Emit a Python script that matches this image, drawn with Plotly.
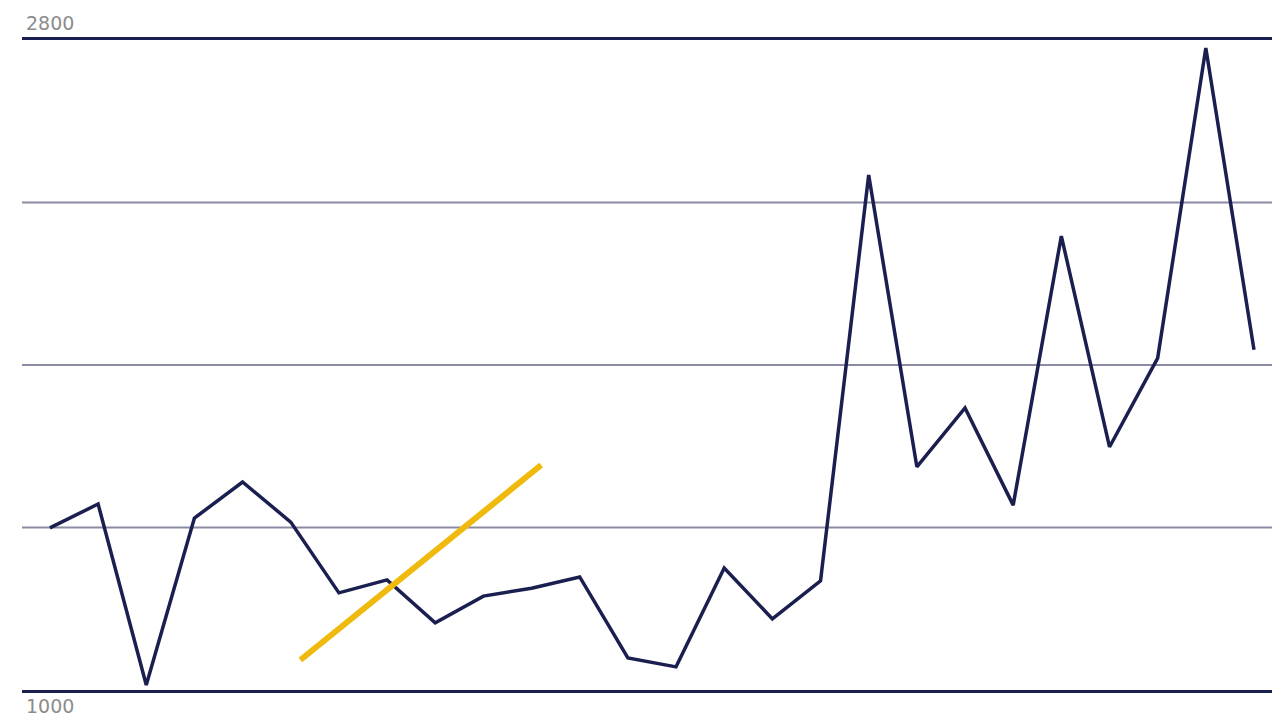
import plotly.graph_objects as go

x_index = list(range(26))
series_values = [1449, 1515, 1014, 1476, 1576, 1465, 1269, 1305, 1186, 1260,
                 1282, 1313, 1089, 1064, 1338, 1197, 1302, 2426, 1618, 1781,
                 1512, 2257, 1673, 1919, 2778, 1942]
trend_x = [5.2, 10.2]
trend_values = [1083, 1623]
grid_values = [1450, 1900, 2350]
tick_values = [1000, 2800]
tick_labels = ["1000", "2800"]

NAVY = "#1b1f4f"

fig = go.Figure()
fig.add_trace(go.Scatter(x=x_index, y=series_values, mode="lines",
                         line=dict(color=NAVY, width=3.5), showlegend=False))
fig.add_trace(go.Scatter(x=trend_x, y=trend_values, mode="lines",
                         line=dict(color="#f0b90e", width=6), showlegend=False))

for v in grid_values:
    fig.add_hline(y=v, line=dict(color="#8a8ca3", width=2), layer="below")

for v, t in zip(tick_values, tick_labels):
    top = v == max(tick_values)
    fig.add_annotation(xref="paper", x=0, y=v, text=t, showarrow=False,
                       xanchor="left", yanchor="bottom" if top else "top",
                       xshift=2, yshift=4 if top else -3,
                       font=dict(family="DejaVu Sans", size=19, color="#8c8c8c"))

fig.update_layout(
    width=1280, height=712,
    margin=dict(l=14, r=8, t=32, b=30),
    paper_bgcolor="white", plot_bgcolor="white",
    xaxis=dict(range=[-0.58, 25.54], showgrid=False, zeroline=False,
               showticklabels=False, ticks="", showline=True, mirror=True,
               linecolor=NAVY, linewidth=3),
    yaxis=dict(range=[1000, 2800], showgrid=False, zeroline=False,
               showticklabels=False, ticks="", showline=False),
)

fig.write_html("out.html")
